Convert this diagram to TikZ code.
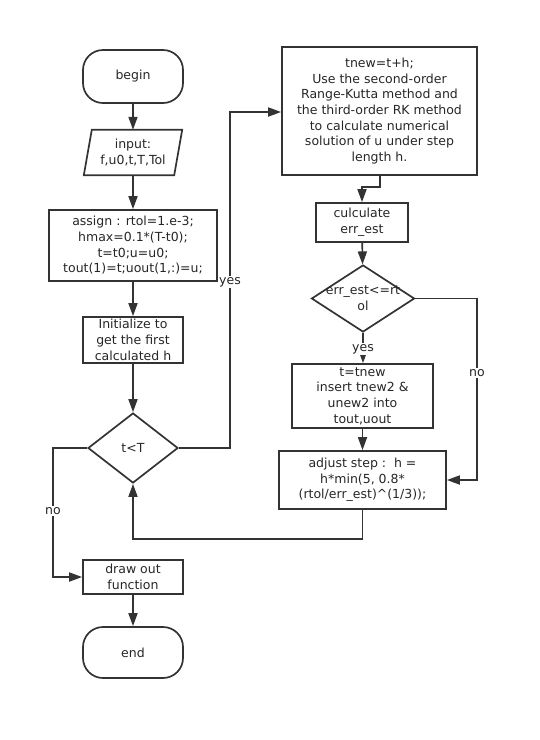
\documentclass[tikz,border=0pt]{standalone}
\usepackage{fontspec}
\setmainfont{DejaVu Sans}
\usetikzlibrary{arrows.meta,shapes.geometric}

\begin{document}
\begin{tikzpicture}[x=1pt,y=-1pt,
    txt/.style={align=center,inner sep=0pt,font=\fontsize{12.5}{15.7}\selectfont,text=black!85},
    box/.style={txt,draw=black!80,line width=1.7pt},
    term/.style={box,rounded corners=20pt},
    cond/.style={diamond,draw=black!80,line width=1.7pt,inner sep=0pt},
    lbl/.style={txt,fill=white,inner sep=1.5pt},
    line/.style={draw=black!80,line width=1.7pt},
    arr/.style={line,-{Triangle[length=13pt,width=9pt]}}]
  \useasboundingbox (0,0) rectangle (539,740);
  % left column
  \node[term,minimum width=100pt,minimum height=53pt] (begin) at (133,76.5) {begin};
  \node[txt,minimum width=98pt,minimum height=45pt] (input) at (133,152.5) {input:\\f,u0,t,T,Tol};
  \draw[line] ([xshift=8pt]input.north west) -- (input.north east)
    -- ([xshift=-8pt]input.south east) -- (input.south west) -- cycle;
  \node[box,minimum width=168pt,minimum height=71pt] (assign) at (133,245.5)
    {assign : rtol=1.e-3;\\hmax=0.1*(T-t0);\\t=t0;u=u0;\\tout(1)=t;uout(1,:)=u;};
  \node[box,minimum width=100pt,minimum height=46pt] (init) at (133,340)
    {Initialize to\\get the first\\calculated h};
  \node[cond,minimum width=90pt,minimum height=70pt] (c1) at (133,448) {};
  \node[txt] (c1t) at (c1) {t<T};
  \node[box,minimum width=100pt,minimum height=34pt] (out) at (133,577) {draw out\\function};
  \node[term,minimum width=100pt,minimum height=51pt] (end) at (133,652.5) {end};
  % right column
  \node[box,minimum width=195pt,minimum height=128pt] (rk) at (379.5,111)
    {tnew=t+h;\\Use the second-order\\Range-Kutta method and\\the third-order RK method\\to calculate numerical\\solution of u under step\\length h.};
  \node[box,minimum width=92pt,minimum height=39pt] (calc) at (362,222.5) {culculate\\err\_est};
  \node[cond,minimum width=103pt,minimum height=67pt] (c2) at (363,298.5) {};
  \node[txt] (c2t) at (c2) {err\_est<=rt\\ol};
  \node[box,minimum width=141pt,minimum height=64pt] (tnew) at (362.5,396)
    {t=tnew\\insert tnew2 \&\\unew2 into\\tout,uout};
  \node[box,minimum width=167pt,minimum height=58pt] (adj) at (362.5,480)
    {adjust step :\ \ h =\\h*min(5, 0.8*\\(rtol/err\_est)\textasciicircum(1/3));};
  % connectors
  \draw[arr] (begin) -- (input);
  \draw[arr] (input) -- (assign);
  \draw[arr] (assign) -- (init);
  \draw[arr] (init) -- (c1);
  \draw[arr] (out) -- (end);
  \draw[arr] (c1.east) -- (230,448) -- (230,112) -- (rk.west |- 0,112);
  \node[lbl] (yes1) at (230,282) {yes};
  \draw[arr] (rk.south -| 380,0) -- (380,187) -- (362,187) -- (calc.north);
  \draw[arr] (calc) -- (c2);
  \draw[arr] (c2.south) -- (tnew.north -| c2.south);
  \node[lbl] (yes2) at (363,349) {yes};
  \draw[arr] (c2.east) -- (477,298.5) -- (477,480) -- (adj.east);
  \node[lbl] (no2) at (477,373) {no};
  \draw[arr] (tnew) -- (adj);
  \draw[arr] (adj.south) -- (362.5,539) -- (133,539) -- (c1.south);
  \draw[arr] (c1.west) -- (53,448) -- (53,577) -- (out.west);
  \node[lbl] (no1) at (53,511) {no};
\end{tikzpicture}
\end{document}
